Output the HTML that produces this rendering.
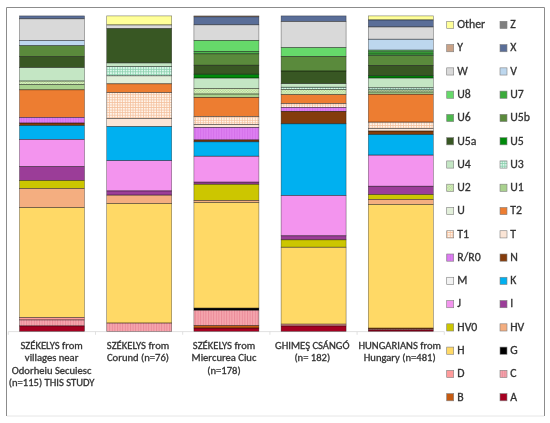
<!DOCTYPE html><html><head><meta charset="utf-8"><title>Haplogroup frequencies</title><style>
html,body{margin:0;padding:0;background:#fff;}body{width:550px;height:423px;overflow:hidden;}
svg{display:block;}text{font-family:Carlito,"Liberation Sans",sans-serif;font-size-adjust:0.4777;fill:#333333;stroke:#333333;stroke-width:0.3px;}
.cat{font-size:10.6px;text-anchor:middle;}.lg{font-size:11.8px;}
</style></head><body>
<svg width="550" height="423" viewBox="0 0 550 423">
<defs>
<pattern id="pU3" width="2.6" height="2.55" patternUnits="userSpaceOnUse"><rect width="2.6" height="2.55" fill="#DDF8EC"/><path d="M0 0.4H2.6M0.4 0V2.55" stroke="#86CDAA" stroke-width="0.8"/></pattern>
<pattern id="pT1" width="2.6" height="2.55" patternUnits="userSpaceOnUse"><rect width="2.6" height="2.55" fill="#FFF4EA"/><path d="M0 0.4H2.6M0.4 0V2.55" stroke="#F3C09C" stroke-width="0.8"/></pattern>
<pattern id="pU2" width="2.6" height="2.6" patternUnits="userSpaceOnUse"><rect width="2.6" height="2.6" fill="#E2F5C6"/><rect x="0" y="0" width="1.3" height="1.3" fill="#AED596"/><rect x="1.3" y="1.3" width="1.3" height="1.3" fill="#AED596"/></pattern>
<pattern id="pR" width="2.6" height="3" patternUnits="userSpaceOnUse"><rect width="2.6" height="3" fill="#DE80F2"/><rect x="0" width="1" height="3" fill="#D470EA"/></pattern>
<pattern id="pC" width="2.6" height="3" patternUnits="userSpaceOnUse"><rect width="2.6" height="3" fill="#F5A6AE"/><rect x="0" width="1" height="3" fill="#EA8A98"/></pattern>
</defs>
<rect x="0" y="0" width="550" height="423" fill="#fff"/>
<path d="M6.5 416V7.5H544.5V416" fill="none" stroke="#8C8C8C" stroke-width="1"/>
<path d="M7 416H544" fill="none" stroke="#E6E6E6" stroke-width="1"/>
<path d="M8.3 331.6H444.3" stroke="#DEDEDE" stroke-width="0.9"/>
<path d="M8.30 331.6V334.8" stroke="#DEDEDE" stroke-width="0.9"/>
<path d="M95.50 331.6V334.8" stroke="#DEDEDE" stroke-width="0.9"/>
<path d="M182.70 331.6V334.8" stroke="#DEDEDE" stroke-width="0.9"/>
<path d="M269.90 331.6V334.8" stroke="#DEDEDE" stroke-width="0.9"/>
<path d="M357.10 331.6V334.8" stroke="#DEDEDE" stroke-width="0.9"/>
<path d="M444.30 331.6V334.8" stroke="#DEDEDE" stroke-width="0.9"/>
<rect x="19.50" y="15.90" width="65.0" height="2.90" fill="#5A6E98"/><rect x="19.50" y="18.80" width="65.0" height="21.60" fill="#D9D9D9"/><rect x="19.50" y="40.40" width="65.0" height="5.30" fill="#BDD7EE"/><rect x="19.50" y="45.70" width="65.0" height="11.00" fill="#5A8A3C"/><rect x="19.50" y="56.70" width="65.0" height="10.90" fill="#385723"/><rect x="19.50" y="67.60" width="65.0" height="13.40" fill="#C4E6C4"/><rect x="19.50" y="81.00" width="65.0" height="3.50" fill="url(#pU2)"/><rect x="19.50" y="84.50" width="65.0" height="5.30" fill="#A9D18E"/><rect x="19.50" y="89.80" width="65.0" height="27.50" fill="#ED7D31"/><rect x="19.50" y="117.30" width="65.0" height="5.70" fill="url(#pR)"/><rect x="19.50" y="123.00" width="65.0" height="2.50" fill="#843C0C"/><rect x="19.50" y="125.50" width="65.0" height="13.90" fill="#00B0F0"/><rect x="19.50" y="139.40" width="65.0" height="27.20" fill="#F394EE"/><rect x="19.50" y="166.60" width="65.0" height="13.80" fill="#9B3D98"/><rect x="19.50" y="180.40" width="65.0" height="8.00" fill="#CCC600"/><rect x="19.50" y="188.40" width="65.0" height="19.30" fill="#F4AE80"/><rect x="19.50" y="207.70" width="65.0" height="109.80" fill="#FFD966"/><rect x="19.50" y="317.50" width="65.0" height="2.40" fill="#FF9B9B"/><rect x="19.50" y="319.90" width="65.0" height="6.00" fill="url(#pC)"/><rect x="19.50" y="325.90" width="65.0" height="5.40" fill="#A50021"/>
<g fill="none" stroke="rgba(0,0,0,0.5)" stroke-width="0.6"><rect x="19.50" y="15.90" width="65.0" height="2.90"/><rect x="19.50" y="18.80" width="65.0" height="21.60"/><rect x="19.50" y="40.40" width="65.0" height="5.30"/><rect x="19.50" y="45.70" width="65.0" height="11.00"/><rect x="19.50" y="56.70" width="65.0" height="10.90"/><rect x="19.50" y="67.60" width="65.0" height="13.40"/><rect x="19.50" y="81.00" width="65.0" height="3.50"/><rect x="19.50" y="84.50" width="65.0" height="5.30"/><rect x="19.50" y="89.80" width="65.0" height="27.50"/><rect x="19.50" y="117.30" width="65.0" height="5.70"/><rect x="19.50" y="123.00" width="65.0" height="2.50"/><rect x="19.50" y="125.50" width="65.0" height="13.90"/><rect x="19.50" y="139.40" width="65.0" height="27.20"/><rect x="19.50" y="166.60" width="65.0" height="13.80"/><rect x="19.50" y="180.40" width="65.0" height="8.00"/><rect x="19.50" y="188.40" width="65.0" height="19.30"/><rect x="19.50" y="207.70" width="65.0" height="109.80"/><rect x="19.50" y="317.50" width="65.0" height="2.40"/><rect x="19.50" y="319.90" width="65.0" height="6.00"/><rect x="19.50" y="325.90" width="65.0" height="5.40"/></g>
<rect x="106.70" y="15.90" width="65.0" height="9.00" fill="#FFFF99"/><rect x="106.70" y="24.90" width="65.0" height="3.70" fill="#D9D9D9"/><rect x="106.70" y="28.60" width="65.0" height="34.30" fill="#385723"/><rect x="106.70" y="62.90" width="65.0" height="3.80" fill="#C4E6C4"/><rect x="106.70" y="66.70" width="65.0" height="9.10" fill="url(#pU3)"/><rect x="106.70" y="75.80" width="65.0" height="8.00" fill="#E2EFDA"/><rect x="106.70" y="83.80" width="65.0" height="8.70" fill="#ED7D31"/><rect x="106.70" y="92.50" width="65.0" height="25.90" fill="url(#pT1)"/><rect x="106.70" y="118.40" width="65.0" height="8.20" fill="#FBE5D6"/><rect x="106.70" y="126.60" width="65.0" height="34.10" fill="#00B0F0"/><rect x="106.70" y="160.70" width="65.0" height="30.20" fill="#F394EE"/><rect x="106.70" y="190.90" width="65.0" height="4.20" fill="#9B3D98"/><rect x="106.70" y="195.10" width="65.0" height="8.50" fill="#F4AE80"/><rect x="106.70" y="203.60" width="65.0" height="119.40" fill="#FFD966"/><rect x="106.70" y="323.00" width="65.0" height="8.30" fill="url(#pC)"/>
<g fill="none" stroke="rgba(0,0,0,0.5)" stroke-width="0.6"><rect x="106.70" y="15.90" width="65.0" height="9.00"/><rect x="106.70" y="24.90" width="65.0" height="3.70"/><rect x="106.70" y="28.60" width="65.0" height="34.30"/><rect x="106.70" y="62.90" width="65.0" height="3.80"/><rect x="106.70" y="66.70" width="65.0" height="9.10"/><rect x="106.70" y="75.80" width="65.0" height="8.00"/><rect x="106.70" y="83.80" width="65.0" height="8.70"/><rect x="106.70" y="92.50" width="65.0" height="25.90"/><rect x="106.70" y="118.40" width="65.0" height="8.20"/><rect x="106.70" y="126.60" width="65.0" height="34.10"/><rect x="106.70" y="160.70" width="65.0" height="30.20"/><rect x="106.70" y="190.90" width="65.0" height="4.20"/><rect x="106.70" y="195.10" width="65.0" height="8.50"/><rect x="106.70" y="203.60" width="65.0" height="119.40"/><rect x="106.70" y="323.00" width="65.0" height="8.30"/></g>
<rect x="193.90" y="15.90" width="65.0" height="0.90" fill="#C9A287"/><rect x="193.90" y="16.80" width="65.0" height="8.00" fill="#5A6E98"/><rect x="193.90" y="24.80" width="65.0" height="15.60" fill="#D9D9D9"/><rect x="193.90" y="40.40" width="65.0" height="10.90" fill="#66D96A"/><rect x="193.90" y="51.30" width="65.0" height="2.50" fill="#4DB84D"/><rect x="193.90" y="53.80" width="65.0" height="11.40" fill="#5A8A3C"/><rect x="193.90" y="65.20" width="65.0" height="9.00" fill="#385723"/><rect x="193.90" y="74.20" width="65.0" height="3.80" fill="#008A0A"/><rect x="193.90" y="78.00" width="65.0" height="10.40" fill="#C4E6C4"/><rect x="193.90" y="88.40" width="65.0" height="5.60" fill="url(#pU2)"/><rect x="193.90" y="94.00" width="65.0" height="3.30" fill="#A9D18E"/><rect x="193.90" y="97.30" width="65.0" height="19.20" fill="#ED7D31"/><rect x="193.90" y="116.50" width="65.0" height="7.80" fill="url(#pT1)"/><rect x="193.90" y="124.30" width="65.0" height="3.00" fill="#FBE5D6"/><rect x="193.90" y="127.30" width="65.0" height="12.60" fill="url(#pR)"/><rect x="193.90" y="139.90" width="65.0" height="1.90" fill="#843C0C"/><rect x="193.90" y="141.80" width="65.0" height="14.40" fill="#00B0F0"/><rect x="193.90" y="156.20" width="65.0" height="25.90" fill="#F394EE"/><rect x="193.90" y="182.10" width="65.0" height="2.10" fill="#9B3D98"/><rect x="193.90" y="184.20" width="65.0" height="16.10" fill="#CCC600"/><rect x="193.90" y="200.30" width="65.0" height="2.20" fill="#F4AE80"/><rect x="193.90" y="202.50" width="65.0" height="105.60" fill="#FFD966"/><rect x="193.90" y="308.10" width="65.0" height="2.10" fill="#000000"/><rect x="193.90" y="310.20" width="65.0" height="15.40" fill="url(#pC)"/><rect x="193.90" y="325.60" width="65.0" height="2.40" fill="#C55A11"/><rect x="193.90" y="328.00" width="65.0" height="3.30" fill="#A50021"/>
<g fill="none" stroke="rgba(0,0,0,0.5)" stroke-width="0.6"><rect x="193.90" y="15.90" width="65.0" height="0.90"/><rect x="193.90" y="16.80" width="65.0" height="8.00"/><rect x="193.90" y="24.80" width="65.0" height="15.60"/><rect x="193.90" y="40.40" width="65.0" height="10.90"/><rect x="193.90" y="51.30" width="65.0" height="2.50"/><rect x="193.90" y="53.80" width="65.0" height="11.40"/><rect x="193.90" y="65.20" width="65.0" height="9.00"/><rect x="193.90" y="74.20" width="65.0" height="3.80"/><rect x="193.90" y="78.00" width="65.0" height="10.40"/><rect x="193.90" y="88.40" width="65.0" height="5.60"/><rect x="193.90" y="94.00" width="65.0" height="3.30"/><rect x="193.90" y="97.30" width="65.0" height="19.20"/><rect x="193.90" y="116.50" width="65.0" height="7.80"/><rect x="193.90" y="124.30" width="65.0" height="3.00"/><rect x="193.90" y="127.30" width="65.0" height="12.60"/><rect x="193.90" y="139.90" width="65.0" height="1.90"/><rect x="193.90" y="141.80" width="65.0" height="14.40"/><rect x="193.90" y="156.20" width="65.0" height="25.90"/><rect x="193.90" y="182.10" width="65.0" height="2.10"/><rect x="193.90" y="184.20" width="65.0" height="16.10"/><rect x="193.90" y="200.30" width="65.0" height="2.20"/><rect x="193.90" y="202.50" width="65.0" height="105.60"/><rect x="193.90" y="308.10" width="65.0" height="2.10"/><rect x="193.90" y="310.20" width="65.0" height="15.40"/><rect x="193.90" y="325.60" width="65.0" height="2.40"/><rect x="193.90" y="328.00" width="65.0" height="3.30"/></g>
<rect x="281.10" y="15.90" width="65.0" height="5.60" fill="#5A6E98"/><rect x="281.10" y="21.50" width="65.0" height="26.10" fill="#D9D9D9"/><rect x="281.10" y="47.60" width="65.0" height="8.80" fill="#66D96A"/><rect x="281.10" y="56.40" width="65.0" height="14.60" fill="#5A8A3C"/><rect x="281.10" y="71.00" width="65.0" height="12.70" fill="#385723"/><rect x="281.10" y="83.70" width="65.0" height="3.50" fill="#C4E6C4"/><rect x="281.10" y="87.20" width="65.0" height="2.10" fill="url(#pU3)"/><rect x="281.10" y="89.30" width="65.0" height="5.40" fill="url(#pU2)"/><rect x="281.10" y="94.70" width="65.0" height="8.80" fill="#ED7D31"/><rect x="281.10" y="103.50" width="65.0" height="3.90" fill="url(#pT1)"/><rect x="281.10" y="107.40" width="65.0" height="3.90" fill="url(#pR)"/><rect x="281.10" y="111.30" width="65.0" height="12.50" fill="#843C0C"/><rect x="281.10" y="123.80" width="65.0" height="71.70" fill="#00B0F0"/><rect x="281.10" y="195.50" width="65.0" height="40.30" fill="#F394EE"/><rect x="281.10" y="235.80" width="65.0" height="4.00" fill="#9B3D98"/><rect x="281.10" y="239.80" width="65.0" height="7.40" fill="#CCC600"/><rect x="281.10" y="247.20" width="65.0" height="76.90" fill="#FFD966"/><rect x="281.10" y="324.10" width="65.0" height="1.80" fill="#FF9B9B"/><rect x="281.10" y="325.90" width="65.0" height="5.40" fill="#A50021"/>
<g fill="none" stroke="rgba(0,0,0,0.5)" stroke-width="0.6"><rect x="281.10" y="15.90" width="65.0" height="5.60"/><rect x="281.10" y="21.50" width="65.0" height="26.10"/><rect x="281.10" y="47.60" width="65.0" height="8.80"/><rect x="281.10" y="56.40" width="65.0" height="14.60"/><rect x="281.10" y="71.00" width="65.0" height="12.70"/><rect x="281.10" y="83.70" width="65.0" height="3.50"/><rect x="281.10" y="87.20" width="65.0" height="2.10"/><rect x="281.10" y="89.30" width="65.0" height="5.40"/><rect x="281.10" y="94.70" width="65.0" height="8.80"/><rect x="281.10" y="103.50" width="65.0" height="3.90"/><rect x="281.10" y="107.40" width="65.0" height="3.90"/><rect x="281.10" y="111.30" width="65.0" height="12.50"/><rect x="281.10" y="123.80" width="65.0" height="71.70"/><rect x="281.10" y="195.50" width="65.0" height="40.30"/><rect x="281.10" y="235.80" width="65.0" height="4.00"/><rect x="281.10" y="239.80" width="65.0" height="7.40"/><rect x="281.10" y="247.20" width="65.0" height="76.90"/><rect x="281.10" y="324.10" width="65.0" height="1.80"/><rect x="281.10" y="325.90" width="65.0" height="5.40"/></g>
<rect x="368.30" y="15.90" width="65.0" height="4.00" fill="#FFFF99"/><rect x="368.30" y="19.90" width="65.0" height="7.00" fill="#5A6E98"/><rect x="368.30" y="26.90" width="65.0" height="12.30" fill="#D9D9D9"/><rect x="368.30" y="39.20" width="65.0" height="10.90" fill="#BDD7EE"/><rect x="368.30" y="50.10" width="65.0" height="1.70" fill="#66D96A"/><rect x="368.30" y="51.80" width="65.0" height="2.20" fill="#3BAA3B"/><rect x="368.30" y="54.00" width="65.0" height="1.60" fill="#4DB84D"/><rect x="368.30" y="55.60" width="65.0" height="9.80" fill="#5A8A3C"/><rect x="368.30" y="65.40" width="65.0" height="10.40" fill="#385723"/><rect x="368.30" y="75.80" width="65.0" height="2.20" fill="#008A0A"/><rect x="368.30" y="78.00" width="65.0" height="9.80" fill="#C4E6C4"/><rect x="368.30" y="87.80" width="65.0" height="2.10" fill="url(#pU3)"/><rect x="368.30" y="89.90" width="65.0" height="2.10" fill="url(#pU2)"/><rect x="368.30" y="92.00" width="65.0" height="2.20" fill="#A9D18E"/><rect x="368.30" y="94.20" width="65.0" height="27.90" fill="#ED7D31"/><rect x="368.30" y="122.10" width="65.0" height="6.40" fill="url(#pT1)"/><rect x="368.30" y="128.50" width="65.0" height="2.50" fill="#FBE5D6"/><rect x="368.30" y="131.00" width="65.0" height="3.50" fill="#843C0C"/><rect x="368.30" y="134.50" width="65.0" height="20.60" fill="#00B0F0"/><rect x="368.30" y="155.10" width="65.0" height="31.10" fill="#F394EE"/><rect x="368.30" y="186.20" width="65.0" height="8.30" fill="#9B3D98"/><rect x="368.30" y="194.50" width="65.0" height="4.80" fill="#CCC600"/><rect x="368.30" y="199.30" width="65.0" height="5.20" fill="#F4AE80"/><rect x="368.30" y="204.50" width="65.0" height="123.60" fill="#FFD966"/><rect x="368.30" y="328.10" width="65.0" height="0.90" fill="#C55A11"/><rect x="368.30" y="329.00" width="65.0" height="1.00" fill="url(#pC)"/><rect x="368.30" y="330.00" width="65.0" height="1.30" fill="#A50021"/>
<g fill="none" stroke="rgba(0,0,0,0.5)" stroke-width="0.6"><rect x="368.30" y="15.90" width="65.0" height="4.00"/><rect x="368.30" y="19.90" width="65.0" height="7.00"/><rect x="368.30" y="26.90" width="65.0" height="12.30"/><rect x="368.30" y="39.20" width="65.0" height="10.90"/><rect x="368.30" y="50.10" width="65.0" height="1.70"/><rect x="368.30" y="51.80" width="65.0" height="2.20"/><rect x="368.30" y="54.00" width="65.0" height="1.60"/><rect x="368.30" y="55.60" width="65.0" height="9.80"/><rect x="368.30" y="65.40" width="65.0" height="10.40"/><rect x="368.30" y="75.80" width="65.0" height="2.20"/><rect x="368.30" y="78.00" width="65.0" height="9.80"/><rect x="368.30" y="87.80" width="65.0" height="2.10"/><rect x="368.30" y="89.90" width="65.0" height="2.10"/><rect x="368.30" y="92.00" width="65.0" height="2.20"/><rect x="368.30" y="94.20" width="65.0" height="27.90"/><rect x="368.30" y="122.10" width="65.0" height="6.40"/><rect x="368.30" y="128.50" width="65.0" height="2.50"/><rect x="368.30" y="131.00" width="65.0" height="3.50"/><rect x="368.30" y="134.50" width="65.0" height="20.60"/><rect x="368.30" y="155.10" width="65.0" height="31.10"/><rect x="368.30" y="186.20" width="65.0" height="8.30"/><rect x="368.30" y="194.50" width="65.0" height="4.80"/><rect x="368.30" y="199.30" width="65.0" height="5.20"/><rect x="368.30" y="204.50" width="65.0" height="123.60"/><rect x="368.30" y="328.10" width="65.0" height="0.90"/><rect x="368.30" y="329.00" width="65.0" height="1.00"/><rect x="368.30" y="330.00" width="65.0" height="1.30"/></g>
<text class="cat" x="51.60" y="348.50" textLength="62.45" lengthAdjust="spacingAndGlyphs">SZÉKELYS from</text>
<text class="cat" x="51.60" y="361.10" textLength="53.50" lengthAdjust="spacingAndGlyphs">villages near</text>
<text class="cat" x="51.60" y="373.70" textLength="79.65" lengthAdjust="spacingAndGlyphs">Odorheiu Secuiesc</text>
<text class="cat" x="51.60" y="386.30" textLength="85.75" lengthAdjust="spacingAndGlyphs">(n=115) THIS STUDY</text>
<text class="cat" x="138.00" y="348.50" textLength="62.45" lengthAdjust="spacingAndGlyphs">SZÉKELYS from</text>
<text class="cat" x="138.00" y="361.10" textLength="62.06" lengthAdjust="spacingAndGlyphs">Corund (n=76)</text>
<text class="cat" x="224.00" y="348.50" textLength="62.45" lengthAdjust="spacingAndGlyphs">SZÉKELYS from</text>
<text class="cat" x="224.00" y="361.10" textLength="64.80" lengthAdjust="spacingAndGlyphs">Miercurea Ciuc</text>
<text class="cat" x="224.00" y="373.70" textLength="33.39" lengthAdjust="spacingAndGlyphs">(n=178)</text>
<text class="cat" x="312.30" y="348.50" textLength="74.49" lengthAdjust="spacingAndGlyphs">GHIMEŞ CSÁNGÓ</text>
<text class="cat" x="312.30" y="361.10" textLength="35.79" lengthAdjust="spacingAndGlyphs">(n= 182)</text>
<text class="cat" x="399.70" y="348.50" textLength="82.55" lengthAdjust="spacingAndGlyphs">HUNGARIANS from</text>
<text class="cat" x="399.70" y="361.10" textLength="71.95" lengthAdjust="spacingAndGlyphs">Hungary (n=481)</text>
<rect x="446.7" y="21.30" width="7.0" height="7.2" fill="#FFFF99" stroke="#7F7F7F" stroke-width="0.6"/>
<text class="lg" x="457.3" y="28.20" textLength="27.95" lengthAdjust="spacingAndGlyphs">Other</text>
<rect x="500.0" y="21.30" width="7.0" height="7.2" fill="#808080" stroke="#7F7F7F" stroke-width="0.6"/>
<text class="lg" x="510.2" y="28.20" textLength="5.53" lengthAdjust="spacingAndGlyphs">Z</text>
<rect x="446.7" y="44.57" width="7.0" height="7.2" fill="#C9A287" stroke="#7F7F7F" stroke-width="0.6"/>
<text class="lg" x="457.3" y="51.47" textLength="5.75" lengthAdjust="spacingAndGlyphs">Y</text>
<rect x="500.0" y="44.57" width="7.0" height="7.2" fill="#5A6E98" stroke="#7F7F7F" stroke-width="0.6"/>
<text class="lg" x="510.2" y="51.47" textLength="6.12" lengthAdjust="spacingAndGlyphs">X</text>
<rect x="446.7" y="67.84" width="7.0" height="7.2" fill="#D9D9D9" stroke="#7F7F7F" stroke-width="0.6"/>
<text class="lg" x="457.3" y="74.74" textLength="10.50" lengthAdjust="spacingAndGlyphs">W</text>
<rect x="500.0" y="67.84" width="7.0" height="7.2" fill="#BDD7EE" stroke="#7F7F7F" stroke-width="0.6"/>
<text class="lg" x="510.2" y="74.74" textLength="6.70" lengthAdjust="spacingAndGlyphs">V</text>
<rect x="446.7" y="91.11" width="7.0" height="7.2" fill="#66D96A" stroke="#7F7F7F" stroke-width="0.6"/>
<text class="lg" x="457.3" y="98.01" textLength="13.55" lengthAdjust="spacingAndGlyphs">U8</text>
<rect x="500.0" y="91.11" width="7.0" height="7.2" fill="#3BAA3B" stroke="#7F7F7F" stroke-width="0.6"/>
<text class="lg" x="510.2" y="98.01" textLength="13.55" lengthAdjust="spacingAndGlyphs">U7</text>
<rect x="446.7" y="114.38" width="7.0" height="7.2" fill="#4DB84D" stroke="#7F7F7F" stroke-width="0.6"/>
<text class="lg" x="457.3" y="121.28" textLength="13.55" lengthAdjust="spacingAndGlyphs">U6</text>
<rect x="500.0" y="114.38" width="7.0" height="7.2" fill="#5A8A3C" stroke="#7F7F7F" stroke-width="0.6"/>
<text class="lg" x="510.2" y="121.28" textLength="19.75" lengthAdjust="spacingAndGlyphs">U5b</text>
<rect x="446.7" y="137.65" width="7.0" height="7.2" fill="#385723" stroke="#7F7F7F" stroke-width="0.6"/>
<text class="lg" x="457.3" y="144.55" textLength="19.20" lengthAdjust="spacingAndGlyphs">U5a</text>
<rect x="500.0" y="137.65" width="7.0" height="7.2" fill="#008A0A" stroke="#7F7F7F" stroke-width="0.6"/>
<text class="lg" x="510.2" y="144.55" textLength="13.55" lengthAdjust="spacingAndGlyphs">U5</text>
<rect x="446.7" y="160.92" width="7.0" height="7.2" fill="#C4E6C4" stroke="#7F7F7F" stroke-width="0.6"/>
<text class="lg" x="457.3" y="167.82" textLength="13.55" lengthAdjust="spacingAndGlyphs">U4</text>
<rect x="500.0" y="160.92" width="7.0" height="7.2" fill="url(#pU3)" stroke="#7F7F7F" stroke-width="0.6"/>
<text class="lg" x="510.2" y="167.82" textLength="13.55" lengthAdjust="spacingAndGlyphs">U3</text>
<rect x="446.7" y="184.19" width="7.0" height="7.2" fill="url(#pU2)" stroke="#7F7F7F" stroke-width="0.6"/>
<text class="lg" x="457.3" y="191.09" textLength="13.55" lengthAdjust="spacingAndGlyphs">U2</text>
<rect x="500.0" y="184.19" width="7.0" height="7.2" fill="#A9D18E" stroke="#7F7F7F" stroke-width="0.6"/>
<text class="lg" x="510.2" y="191.09" textLength="13.55" lengthAdjust="spacingAndGlyphs">U1</text>
<rect x="446.7" y="207.46" width="7.0" height="7.2" fill="#E2EFDA" stroke="#7F7F7F" stroke-width="0.6"/>
<text class="lg" x="457.3" y="214.36" textLength="7.57" lengthAdjust="spacingAndGlyphs">U</text>
<rect x="500.0" y="207.46" width="7.0" height="7.2" fill="#ED7D31" stroke="#7F7F7F" stroke-width="0.6"/>
<text class="lg" x="510.2" y="214.36" textLength="11.73" lengthAdjust="spacingAndGlyphs">T2</text>
<rect x="446.7" y="230.73" width="7.0" height="7.2" fill="url(#pT1)" stroke="#7F7F7F" stroke-width="0.6"/>
<text class="lg" x="457.3" y="237.63" textLength="11.73" lengthAdjust="spacingAndGlyphs">T1</text>
<rect x="500.0" y="230.73" width="7.0" height="7.2" fill="#FBE5D6" stroke="#7F7F7F" stroke-width="0.6"/>
<text class="lg" x="510.2" y="237.63" textLength="5.75" lengthAdjust="spacingAndGlyphs">T</text>
<rect x="446.7" y="254.00" width="7.0" height="7.2" fill="url(#pR)" stroke="#7F7F7F" stroke-width="0.6"/>
<text class="lg" x="457.3" y="260.90" textLength="23.35" lengthAdjust="spacingAndGlyphs">R/R0</text>
<rect x="500.0" y="254.00" width="7.0" height="7.2" fill="#843C0C" stroke="#7F7F7F" stroke-width="0.6"/>
<text class="lg" x="510.2" y="260.90" textLength="7.62" lengthAdjust="spacingAndGlyphs">N</text>
<rect x="446.7" y="277.27" width="7.0" height="7.2" fill="#F2F2F2" stroke="#7F7F7F" stroke-width="0.6"/>
<text class="lg" x="457.3" y="284.17" textLength="10.09" lengthAdjust="spacingAndGlyphs">M</text>
<rect x="500.0" y="277.27" width="7.0" height="7.2" fill="#00B0F0" stroke="#7F7F7F" stroke-width="0.6"/>
<text class="lg" x="510.2" y="284.17" textLength="6.13" lengthAdjust="spacingAndGlyphs">K</text>
<rect x="446.7" y="300.54" width="7.0" height="7.2" fill="#F394EE" stroke="#7F7F7F" stroke-width="0.6"/>
<text class="lg" x="457.3" y="307.44" textLength="3.76" lengthAdjust="spacingAndGlyphs">J</text>
<rect x="500.0" y="300.54" width="7.0" height="7.2" fill="#9B3D98" stroke="#7F7F7F" stroke-width="0.6"/>
<text class="lg" x="510.2" y="307.44" textLength="2.97" lengthAdjust="spacingAndGlyphs">I</text>
<rect x="446.7" y="323.81" width="7.0" height="7.2" fill="#CCC600" stroke="#7F7F7F" stroke-width="0.6"/>
<text class="lg" x="457.3" y="330.71" textLength="20.03" lengthAdjust="spacingAndGlyphs">HV0</text>
<rect x="500.0" y="323.81" width="7.0" height="7.2" fill="#F4AE80" stroke="#7F7F7F" stroke-width="0.6"/>
<text class="lg" x="510.2" y="330.71" textLength="14.05" lengthAdjust="spacingAndGlyphs">HV</text>
<rect x="446.7" y="347.08" width="7.0" height="7.2" fill="#FFD966" stroke="#7F7F7F" stroke-width="0.6"/>
<text class="lg" x="457.3" y="353.98" textLength="7.35" lengthAdjust="spacingAndGlyphs">H</text>
<rect x="500.0" y="347.08" width="7.0" height="7.2" fill="#000000" stroke="#7F7F7F" stroke-width="0.6"/>
<text class="lg" x="510.2" y="353.98" textLength="7.44" lengthAdjust="spacingAndGlyphs">G</text>
<rect x="446.7" y="370.35" width="7.0" height="7.2" fill="#FF9B9B" stroke="#7F7F7F" stroke-width="0.6"/>
<text class="lg" x="457.3" y="377.25" textLength="7.26" lengthAdjust="spacingAndGlyphs">D</text>
<rect x="500.0" y="370.35" width="7.0" height="7.2" fill="url(#pC)" stroke="#7F7F7F" stroke-width="0.6"/>
<text class="lg" x="510.2" y="377.25" textLength="6.29" lengthAdjust="spacingAndGlyphs">C</text>
<rect x="446.7" y="393.62" width="7.0" height="7.2" fill="#C55A11" stroke="#7F7F7F" stroke-width="0.6"/>
<text class="lg" x="457.3" y="400.52" textLength="6.42" lengthAdjust="spacingAndGlyphs">B</text>
<rect x="500.0" y="393.62" width="7.0" height="7.2" fill="#A50021" stroke="#7F7F7F" stroke-width="0.6"/>
<text class="lg" x="510.2" y="400.52" textLength="6.83" lengthAdjust="spacingAndGlyphs">A</text>
</svg></body></html>
